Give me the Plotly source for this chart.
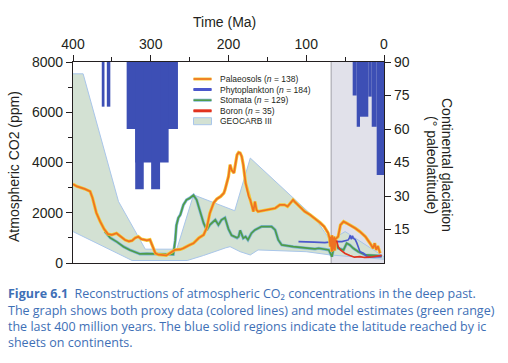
import plotly.graph_objects as go

# ---------------- data (time in Ma, CO2 in ppm) ----------------
paleo_t = [400, 395, 385, 378, 375, 370, 365, 360, 355, 350, 344, 338, 333, 328, 324, 320, 316, 312,
           309, 305, 301, 298, 294, 290, 286, 280, 275, 269, 262, 258, 250, 245, 238, 232, 228, 224,
           219, 215, 210, 206, 204.5, 202, 200, 198, 196, 193, 191, 189, 187, 185, 183, 181, 178, 174,
           172, 170, 168, 166, 164, 162, 155, 149, 140, 134, 128, 124, 121, 117, 115, 108, 102, 95, 89,
           82, 77, 72, 70, 69, 68, 67.3, 66.8, 66, 65.4, 64.8, 64, 63.2, 62.4, 61, 59, 56, 52, 48, 42,
           37, 31, 24, 18, 14, 12, 9.9, 8, 5]
paleo_co2 = [3140, 3050, 2950, 2850, 2600, 2000, 1650, 1350, 1150, 1120, 1185, 1050, 918, 860, 890,
             1000, 1050, 950, 918, 900, 930, 700, 387, 330, 320, 300, 400, 520, 540, 587, 720, 786,
             1000, 1117, 1400, 1980, 2400, 2550, 2650, 2780, 2913, 3250, 3443, 3910, 3700, 3580, 3978,
             4309, 4400, 4380, 4242, 3910, 3180, 2645, 2514, 2300, 2047, 2446, 2115, 2047, 2080, 2115,
             2180, 2314, 2314, 2250, 2380, 2514, 2446, 2246, 2047, 1915, 1783, 1600, 1450, 1200, 985,
             650, 1050, 450, 1100, 480, 1000, 550, 1050, 500, 950, 985, 1050, 1516, 1650, 1583, 1480,
             1385, 1250, 1050, 786, 587, 786, 520, 680, 387]

phyto_t = [110, 101.6, 90, 76, 65, 54, 48, 46, 44.5, 43.7, 42, 40.5, 39.5, 37, 35, 33, 30.9, 26.6,
           22, 15.8, 8, 3]
phyto_co2 = [850, 850, 830, 810, 850, 850, 880, 918, 1000, 1100, 950, 1080, 985, 930, 800, 650, 450,
             387, 270, 240, 240, 250]

stom_t = [359, 352, 344, 335, 327, 320, 314, 305, 297, 285, 273, 271, 268.5, 267, 264.5, 262, 258,
          254, 250, 245, 241, 237, 232, 228, 224, 217, 213, 209, 204.5, 200, 196, 189, 187, 185, 181,
          178, 175, 170.5, 166, 157.5, 144.6, 140, 136, 131.6, 125, 116.7, 101.6, 88.7, 84, 71, 67,
          63, 59, 52, 48, 44, 39.5, 33, 24, 11.6, 3]
stom_co2 = [1250, 1000, 850, 650, 520, 420, 360, 370, 360, 340, 320, 340, 900, 1500, 1800, 1915,
            2314, 2514, 2580, 2700, 2514, 2115, 1584, 1316, 1516, 1716, 1516, 1716, 1800, 1350, 1100,
            1000, 1050, 1300, 985, 1050, 918, 1185, 1316, 1450, 1450, 1316, 918, 718, 680, 650, 600,
            560, 587, 520, 250, 850, 587, 520, 786, 718, 587, 450, 320, 280, 280]

boron_t = [61, 59, 56, 50, 44, 38, 31, 25, 18, 12, 6, 3]
boron_co2 = [900, 650, 520, 380, 300, 230, 250, 220, 230, 250, 270, 300]

geo_up_t = [400, 387, 341.5, 307, 266.5, 245, 192, 172, 88.7, 69, 50, 0]
geo_up_co2 = [7530, 7530, 2450, 550, 550, 2713, 2080, 4177, 1783, 900, 1250, 250]
geo_lo_t = [400, 324, 253, 232, 204, 198, 185, 172, 162, 100, 69, 0]
geo_lo_co2 = [1250, 100, 100, 300, 600, 650, 450, 320, 520, 450, 320, 150]

# continental glaciation: older edge, younger edge (Ma), paleolatitude reached (deg)
glac_old = [363, 356.5, 331, 320, 320, 299.5, 40.3, 35.1, 30.9, 20.2, 15.8, 9.4]
glac_young = [359.5, 352, 265, 277, 309, 288, 35.1, 30.9, 20.2, 15.8, 9.4, 0]
glac_lat = [70, 70, 60, 45, 33, 33, 75, 61, 65.5, 74.5, 61, 39.4]

cenozoic = [68, 0]

legend_labels = ["Palaeosols (<i>n</i> = 138)", "Phytoplankton (<i>n</i> = 184)",
                 "Stomata (<i>n</i> = 129)", "Boron (<i>n</i> = 35)", "GEOCARB III"]

x_ticks = [400, 300, 200, 100, 0]
y_ticks = [0, 2000, 4000, 6000, 8000]
y2_ticks = [15, 30, 45, 60, 75, 90]

caption = [
    "<b>Figure 6.1</b>  Reconstructions of atmospheric CO₂ concentrations in the deep past.",
    "The graph shows both proxy data (colored lines) and model estimates (green range)",
    "the last 400 million years. The blue solid regions indicate the latitude reached by ic",
    "sheets on continents.",
]

# ---------------- styling ----------------
FONT = "Liberation Sans, Arial, sans-serif"
TXT = "#231f20"
C_PALEO, C_PALEO_EDGE = "#ee7222", "#f4c834"
C_PHYTO = "#4c58cc"
C_STOM, C_STOM_EDGE = "#4f9c48", "#7fb5dc"
C_BORON = "#e2321e"
C_GEO, C_GEO_EDGE = "#d3e1d3", "#a9c6ea"
C_GLAC = "#3d4fb5"

L, R, T, B = 73, 384, 62, 263
W, H = 508, 363


def px(x):
    return (x - L) / (R - L)


def py(y):
    return (B - y) / (B - T)


fig = go.Figure()

# GEOCARB III range
fig.add_trace(go.Scatter(
    x=geo_up_t + geo_lo_t[::-1], y=geo_up_co2 + geo_lo_co2[::-1],
    fill="toself", fillcolor=C_GEO, mode="lines",
    line=dict(color=C_GEO_EDGE, width=1), hoverinfo="skip", showlegend=False))

# Stomata
fig.add_trace(go.Scatter(x=stom_t, y=stom_co2, mode="lines",
                         line=dict(color=C_STOM_EDGE, width=3), showlegend=False))
fig.add_trace(go.Scatter(x=stom_t, y=stom_co2, mode="lines",
                         line=dict(color=C_STOM, width=1.7), showlegend=False))
# Phytoplankton
fig.add_trace(go.Scatter(x=phyto_t, y=phyto_co2, mode="lines",
                         line=dict(color=C_PHYTO, width=1.6), showlegend=False))
# Palaeosols
fig.add_trace(go.Scatter(x=paleo_t, y=paleo_co2, mode="lines",
                         line=dict(color=C_PALEO_EDGE, width=3.2), showlegend=False))
fig.add_trace(go.Scatter(x=paleo_t, y=paleo_co2, mode="lines",
                         line=dict(color=C_PALEO, width=1.7), showlegend=False))
# Boron
fig.add_trace(go.Scatter(x=boron_t, y=boron_co2, mode="lines",
                         line=dict(color=C_BORON, width=1.7), showlegend=False))

# Glaciation bars (hanging from 90 deg)
fig.add_trace(go.Bar(
    x=[(a + b) / 2 for a, b in zip(glac_old, glac_young)],
    width=[a - b for a, b in zip(glac_old, glac_young)],
    base=glac_lat, y=[90 - v for v in glac_lat],
    marker=dict(color=C_GLAC, line=dict(width=0)),
    yaxis="y2", showlegend=False, hoverinfo="skip"))

# Cenozoic shading
fig.add_shape(type="rect", xref="x", yref="paper", x0=cenozoic[0], x1=cenozoic[1], y0=0, y1=1,
              fillcolor="#e1e1ea", line=dict(width=0), layer="below")
fig.add_shape(type="line", xref="x", yref="paper", x0=cenozoic[0], x1=cenozoic[0], y0=0, y1=1,
              line=dict(color="#a0a0a8", width=1), layer="below")

# Manual legend
rows = [79, 89.5, 100.2, 110.8, 121.2]
lx0, lx1, ltx = 193.5, 211.5, 218
sample_styles = [(C_PALEO_EDGE, C_PALEO), (C_PHYTO, C_PHYTO), (C_STOM_EDGE, C_STOM), (C_BORON, C_BORON)]
for ry, (edge, core) in zip(rows[:4], sample_styles):
    fig.add_shape(type="line", xref="paper", yref="paper", x0=px(lx0), x1=px(lx1), y0=py(ry), y1=py(ry),
                  line=dict(color=edge, width=3))
    fig.add_shape(type="line", xref="paper", yref="paper", x0=px(lx0), x1=px(lx1), y0=py(ry), y1=py(ry),
                  line=dict(color=core, width=1.6))
fig.add_shape(type="rect", xref="paper", yref="paper", x0=px(lx0), x1=px(lx1),
              y0=py(rows[4] + 3.5), y1=py(rows[4] - 3.5),
              fillcolor=C_GEO, line=dict(color=C_GEO_EDGE, width=1))
for ry, lab in zip(rows, legend_labels):
    fig.add_annotation(x=px(ltx), y=py(ry), xref="paper", yref="paper", text=lab, showarrow=False,
                       xanchor="left", yanchor="middle", font=dict(family=FONT, size=8.5, color=TXT))

# Titles
fig.add_annotation(x=px(224), y=py(22), xref="paper", yref="paper", text="Time (Ma)", showarrow=False,
                   xanchor="center", yanchor="middle", font=dict(family=FONT, size=14, color=TXT))
fig.add_annotation(x=px(14), y=py(167), xref="paper", yref="paper", text="Atmospheric CO2 (ppm)",
                   showarrow=False, textangle=-90, xanchor="center", yanchor="middle",
                   font=dict(family=FONT, size=14, color=TXT))
fig.add_annotation(x=px(447), y=py(165), xref="paper", yref="paper", text="Continental glaciation",
                   showarrow=False, textangle=90, xanchor="center", yanchor="middle",
                   font=dict(family=FONT, size=14, color=TXT))
fig.add_annotation(x=px(432), y=py(165), xref="paper", yref="paper", text="(° paleolatitude)",
                   showarrow=False, textangle=90, xanchor="center", yanchor="middle",
                   font=dict(family=FONT, size=14, color=TXT))

# Caption
cap_y = [293, 310, 326.5, 342.5]
for cy, line in zip(cap_y, caption):
    fig.add_annotation(x=px(6), y=py(cy), xref="paper", yref="paper", text=line, showarrow=False,
                       xanchor="left", yanchor="middle", align="left",
                       font=dict(family="Open Sans, sans-serif", size=12.5, color="#3e6fb6"))

axis_common = dict(showgrid=False, zeroline=False, showline=True, linecolor=TXT, linewidth=1.3,
                   ticks="outside", tickcolor=TXT, tickwidth=1.2, ticklen=6,
                   tickfont=dict(family=FONT, size=14, color=TXT))

fig.update_layout(
    width=W, height=H,
    margin=dict(l=L, r=W - R, t=T, b=H - B, pad=0),
    paper_bgcolor="white", plot_bgcolor="white",
    showlegend=False, barmode="overlay",
    xaxis=dict(range=[400, 0], side="top", tickvals=x_ticks, mirror=True,
               minor=dict(dtick=50, tick0=0, ticks="outside", ticklen=4, tickcolor=TXT), **axis_common),
    yaxis=dict(range=[0, 8000], tickvals=y_ticks, tickformat="d",
               minor=dict(dtick=1000, tick0=0, ticks="outside", ticklen=4, tickcolor=TXT), **axis_common),
    yaxis2=dict(range=[0, 90], tickvals=y2_ticks, overlaying="y", side="right", **axis_common),
)

fig.write_html("out.html", config={"displayModeBar": False},
               post_script="document.body.style.margin='0px';")
